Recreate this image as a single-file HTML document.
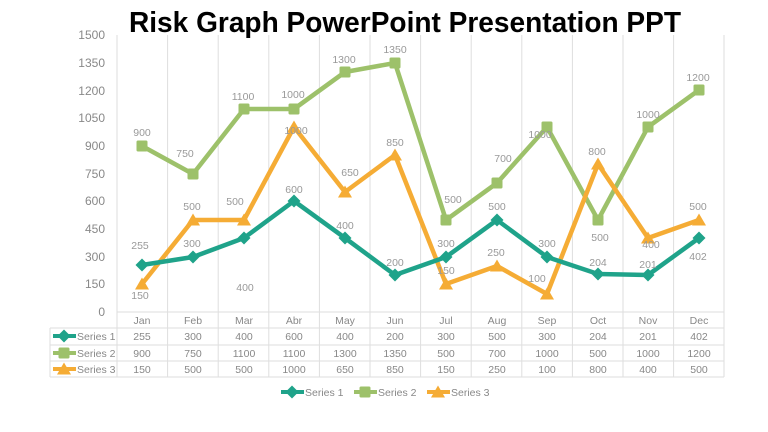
<!DOCTYPE html>
<html><head><meta charset="utf-8"><style>
html,body{margin:0;padding:0;background:#fff;}
svg{display:block;}
</style></head><body>
<svg width="768" height="432" xmlns="http://www.w3.org/2000/svg" font-family="Liberation Sans, sans-serif">
<defs>
<path id="dm" d="M0,-6.5 L6.5,0 L0,6.5 L-6.5,0Z" fill="#1fa38a"/>
<rect id="sq" x="-5.5" y="-5.5" width="11" height="11" rx="1.5" fill="#9dc16a"/>
<path id="tr" d="M0,-6.5 L7,5.5 L-7,5.5Z" fill="#f5ac35"/>
</defs>
<text x="405" y="32" text-anchor="middle" font-size="29" font-weight="bold" fill="#000" textLength="552" lengthAdjust="spacingAndGlyphs">Risk Graph PowerPoint Presentation PPT</text>
<g stroke="#dedede" stroke-width="1">
<line x1="117" y1="35" x2="117" y2="377"/><line x1="167.6" y1="35" x2="167.6" y2="377"/><line x1="218.2" y1="35" x2="218.2" y2="377"/><line x1="268.8" y1="35" x2="268.8" y2="377"/><line x1="319.4" y1="35" x2="319.4" y2="377"/><line x1="370" y1="35" x2="370" y2="377"/><line x1="420.6" y1="35" x2="420.6" y2="377"/><line x1="471.2" y1="35" x2="471.2" y2="377"/><line x1="521.8" y1="35" x2="521.8" y2="377"/><line x1="572.4" y1="35" x2="572.4" y2="377"/><line x1="623" y1="35" x2="623" y2="377"/><line x1="673.6" y1="35" x2="673.6" y2="377"/><line x1="724" y1="35" x2="724" y2="377"/>
<line x1="117" y1="312" x2="724" y2="312"/>
<line x1="50" y1="328" x2="724" y2="328"/><line x1="50" y1="345" x2="724" y2="345"/><line x1="50" y1="361" x2="724" y2="361"/><line x1="50" y1="377" x2="724" y2="377"/>
<line x1="50" y1="328" x2="50" y2="377"/>
</g>
<g font-size="12" fill="#888" text-anchor="end">
<text x="105" y="39">1500</text><text x="105" y="67">1350</text><text x="105" y="95">1200</text><text x="105" y="122">1050</text><text x="105" y="150">900</text><text x="105" y="178">750</text><text x="105" y="205">600</text><text x="105" y="233">450</text><text x="105" y="261">300</text><text x="105" y="288">150</text><text x="105" y="316">0</text>
</g>
<g font-size="10.5" fill="#888" text-anchor="middle">
<text x="142" y="324">Jan</text><text x="193" y="324">Feb</text><text x="244" y="324">Mar</text><text x="294" y="324">Abr</text><text x="345" y="324">May</text><text x="395" y="324">Jun</text><text x="446" y="324">Jul</text><text x="497" y="324">Aug</text><text x="547" y="324">Sep</text><text x="598" y="324">Oct</text><text x="648" y="324">Nov</text><text x="699" y="324">Dec</text>
<text x="142" y="340">255</text><text x="193" y="340">300</text><text x="244" y="340">400</text><text x="294" y="340">600</text><text x="345" y="340">400</text><text x="395" y="340">200</text><text x="446" y="340">300</text><text x="497" y="340">500</text><text x="547" y="340">300</text><text x="598" y="340">204</text><text x="648" y="340">201</text><text x="699" y="340">402</text>
<text x="142" y="357">900</text><text x="193" y="357">750</text><text x="244" y="357">1100</text><text x="294" y="357">1100</text><text x="345" y="357">1300</text><text x="395" y="357">1350</text><text x="446" y="357">500</text><text x="497" y="357">700</text><text x="547" y="357">1000</text><text x="598" y="357">500</text><text x="648" y="357">1000</text><text x="699" y="357">1200</text>
<text x="142" y="373">150</text><text x="193" y="373">500</text><text x="244" y="373">500</text><text x="294" y="373">1000</text><text x="345" y="373">650</text><text x="395" y="373">850</text><text x="446" y="373">150</text><text x="497" y="373">250</text><text x="547" y="373">100</text><text x="598" y="373">800</text><text x="648" y="373">400</text><text x="699" y="373">500</text>
</g>
<g font-size="10.5" fill="#888">
<line x1="53" y1="336" x2="76" y2="336" stroke="#1fa38a" stroke-width="4"/><use href="#dm" x="64" y="336"/><text x="77" y="340">Series 1</text>
<line x1="53" y1="353" x2="76" y2="353" stroke="#9dc16a" stroke-width="4"/><use href="#sq" x="64" y="353"/><text x="77" y="357">Series 2</text>
<line x1="53" y1="369" x2="76" y2="369" stroke="#f5ac35" stroke-width="4"/><use href="#tr" x="64" y="369"/><text x="77" y="373">Series 3</text>
<line x1="281" y1="392" x2="304" y2="392" stroke="#1fa38a" stroke-width="4"/><use href="#dm" x="292" y="392"/><text x="305" y="396">Series 1</text>
<line x1="354" y1="392" x2="377" y2="392" stroke="#9dc16a" stroke-width="4"/><use href="#sq" x="365" y="392"/><text x="378" y="396">Series 2</text>
<line x1="427" y1="392" x2="450" y2="392" stroke="#f5ac35" stroke-width="4"/><use href="#tr" x="438" y="392"/><text x="451" y="396">Series 3</text>
</g>
<g fill="none" stroke-width="4.5" stroke-linejoin="round">
<polyline stroke="#9dc16a" points="142,146 193,174 244,109 294,109 345,72 395,63 446,220 497,183 547,127 598,220 648,127 699,90"/>
<polyline stroke="#f5ac35" points="142,284 193,220 244,220 294,127 345,192 395,155 446,284 497,266 547,294 598,164 648,238 699,220"/>
<polyline stroke="#1fa38a" points="142,265 193,257 244,238 294,201 345,238 395,275 446,257 497,220 547,257 598,274 648,275 699,238"/>
</g>
<g>
<use href="#sq" x="142" y="146"/><use href="#sq" x="193" y="174"/><use href="#sq" x="244" y="109"/><use href="#sq" x="294" y="109"/><use href="#sq" x="345" y="72"/><use href="#sq" x="395" y="63"/><use href="#sq" x="446" y="220"/><use href="#sq" x="497" y="183"/><use href="#sq" x="547" y="127"/><use href="#sq" x="598" y="220"/><use href="#sq" x="648" y="127"/><use href="#sq" x="699" y="90"/>
<use href="#tr" x="142" y="284"/><use href="#tr" x="193" y="220"/><use href="#tr" x="244" y="220"/><use href="#tr" x="294" y="127"/><use href="#tr" x="345" y="192"/><use href="#tr" x="395" y="155"/><use href="#tr" x="446" y="284"/><use href="#tr" x="497" y="266"/><use href="#tr" x="547" y="294"/><use href="#tr" x="598" y="164"/><use href="#tr" x="648" y="238"/><use href="#tr" x="699" y="220"/>
<use href="#dm" x="142" y="265"/><use href="#dm" x="193" y="257"/><use href="#dm" x="244" y="238"/><use href="#dm" x="294" y="201"/><use href="#dm" x="345" y="238"/><use href="#dm" x="395" y="275"/><use href="#dm" x="446" y="257"/><use href="#dm" x="497" y="220"/><use href="#dm" x="547" y="257"/><use href="#dm" x="598" y="274"/><use href="#dm" x="648" y="275"/><use href="#dm" x="699" y="238"/>
</g>
<g font-size="10.5" fill="#999" text-anchor="middle">
<text x="140" y="249">255</text><text x="192" y="247">300</text><text x="245" y="291">400</text><text x="294" y="193">600</text><text x="345" y="229">400</text><text x="395" y="266">200</text><text x="446" y="247">300</text><text x="497" y="210">500</text><text x="547" y="247">300</text><text x="598" y="266">204</text><text x="648" y="268">201</text><text x="698" y="260">402</text>
<text x="142" y="136">900</text><text x="185" y="157">750</text><text x="243" y="100">1100</text><text x="293" y="98">1000</text><text x="344" y="63">1300</text><text x="395" y="53">1350</text><text x="453" y="203">500</text><text x="503" y="162">700</text><text x="540" y="138">1000</text><text x="600" y="241">500</text><text x="648" y="118">1000</text><text x="698" y="81">1200</text>
<text x="140" y="299">150</text><text x="192" y="210">500</text><text x="235" y="205">500</text><text x="296" y="134">1000</text><text x="350" y="176">650</text><text x="395" y="146">850</text><text x="446" y="274">150</text><text x="496" y="256">250</text><text x="537" y="282">100</text><text x="597" y="155">800</text><text x="651" y="248">400</text><text x="698" y="210">500</text>
</g>
</svg>
</body></html>
